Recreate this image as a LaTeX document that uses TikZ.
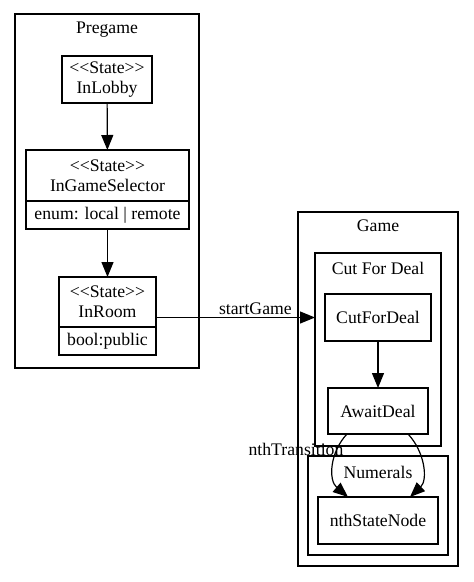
\documentclass[tikz,border=0pt]{standalone}
\usepackage{fontspec}
\setmainfont{Liberation Serif}
\usetikzlibrary{arrows.meta, positioning, calc}

\begin{document}
\begin{tikzpicture}[
    x=1pt, y=1pt,
    box/.style={draw, line width=1.2pt, outer sep=0pt, inner sep=2pt, align=center,
                font=\fontsize{17.7}{20}\selectfont},
    cluster/.style={draw, line width=1.2pt, outer sep=0pt},
    arr/.style={-{Triangle[length=15pt, width=12pt]}, line width=1.2pt},
    lbl/.style={font=\fontsize{17.7}{20}\selectfont, inner sep=1pt}
  ]
  \useasboundingbox (0,0) rectangle (474,-582);

  % Clusters
  \node[cluster, minimum width=184, minimum height=354] (pregame) at (107,-191) {};
  \node[lbl] (pregamelbl) at (107,-30) {Pregame};
  \node[cluster, minimum width=160, minimum height=354] (game) at (378,-389) {};
  \node[lbl] (gamelbl) at (378,-226) {Game};
  \node[cluster, minimum width=126, minimum height=193] (cutcl) at (378,-349.5) {};
  \node[lbl] (cutcllbl) at (378,-268) {Cut For Deal};
  \node[cluster, minimum width=140, minimum height=99] (numcl) at (378,-505.5) {};
  \node[lbl] (numcllbl) at (378,-472) {Numerals};

  % Pregame states
  \node[box, minimum width=90, minimum height=47] (lobby) at (107,-79.5) {{<}{<}State{>}{>}\\InLobby};
  \node[box, minimum width=163, minimum height=51] (sel) at (107.5,-175.5) {{<}{<}State{>}{>}\\InGameSelector};
  \node[box, minimum width=163, minimum height=28, below=0pt of sel] (selattr) {enum: local | remote};
  \node[box, minimum width=97, minimum height=50] (room) at (107.5,-302) {{<}{<}State{>}{>}\\InRoom};
  \node[box, minimum width=97, minimum height=28, below=0pt of room] (roomattr) {bool:public};

  % Game states
  \node[box, minimum width=106, minimum height=47] (cfd) at (378,-317.5) {CutForDeal};
  \node[box, minimum width=100, minimum height=46] (await) at (378,-411) {AwaitDeal};
  \node[box, minimum width=120, minimum height=47] (nth) at (378,-520.5) {nthStateNode};

  \draw[arr] (lobby) -- (sel);
  \draw[arr] (selattr) -- (room);
  \draw[arr] (room.east |- cfd) -- (cutcl.west |- cfd)
    node[lbl, pos=0.625, above=1pt] (startlbl) {startGame};
  \draw[arr] (cfd) -- (await);
  \draw[arr] ([xshift=-31pt]await.south) .. controls +(-17,-18) and +(-20,17) .. ([xshift=-30pt]nth.north);
  \draw[arr] ([xshift=30pt]await.south) .. controls +(17,-18) and +(18,17) .. ([xshift=32pt]nth.north);

  % Labels
  \node[lbl] (nthlbl) at (296,-449) {nthTransition};
\end{tikzpicture}
\end{document}
